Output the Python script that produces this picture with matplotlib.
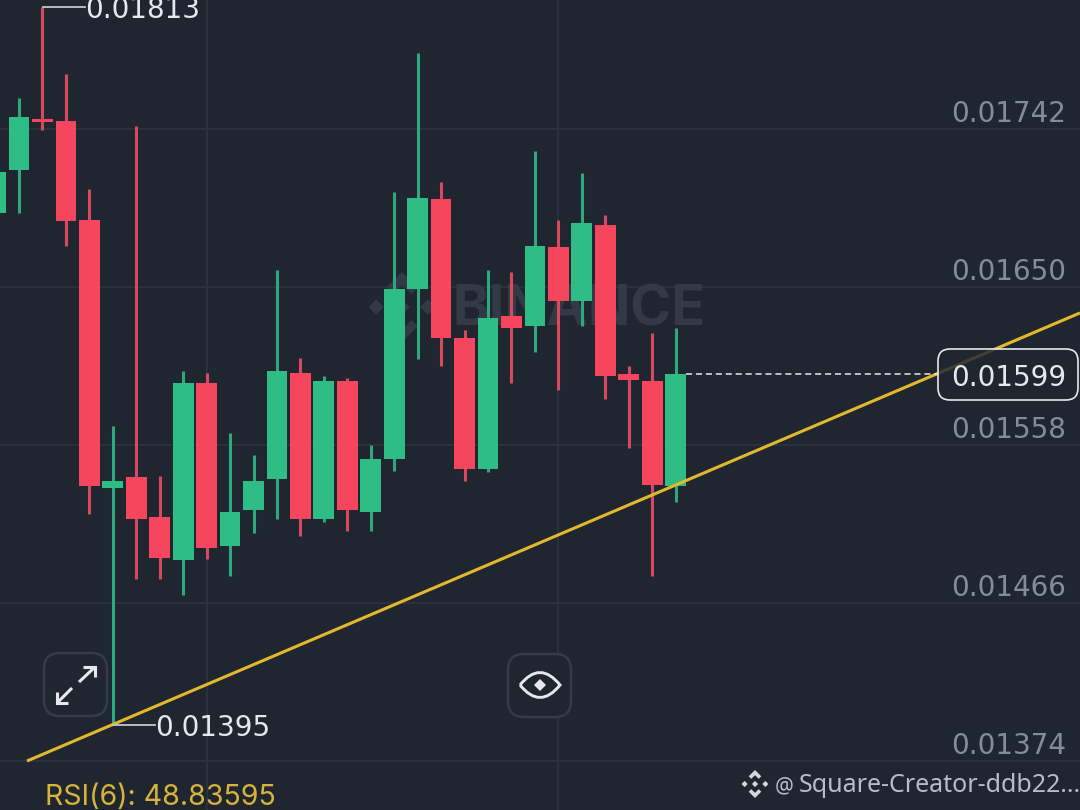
from matplotlib import use

use("Agg")

from matplotlib import pyplot as plt
from matplotlib.patches import FancyBboxPatch, PathPatch, Polygon
from matplotlib.path import Path
from matplotlib.transforms import Affine2D

# prices, one candle per slot, left to right
OPEN = [0.016931, 0.017181, 0.017480, 0.017469, 0.016890, 0.015330, 0.015392, 0.015159, 0.014910, 0.015941,
        0.014990, 0.015200, 0.015380, 0.015999, 0.015149, 0.015951, 0.015190, 0.015500, 0.016490, 0.017011,
        0.016201, 0.015440, 0.016331, 0.016271, 0.016731, 0.016420, 0.016859, 0.015992, 0.015951, 0.015341]
CLOSE = [0.017170, 0.017490, 0.017463, 0.016884, 0.015341, 0.015370, 0.015151, 0.014920, 0.015941, 0.014979,
         0.015190, 0.015370, 0.016011, 0.015151, 0.015951, 0.015200, 0.015498, 0.016490, 0.017020, 0.016201,
         0.015440, 0.016319, 0.016260, 0.016740, 0.016420, 0.016871, 0.015980, 0.015960, 0.015349, 0.015992]
HIGH = [0.017170, 0.017601, 0.018132, 0.017740, 0.017071, 0.015691, 0.017437, 0.015400, 0.016011, 0.016001,
        0.015650, 0.015520, 0.016599, 0.016087, 0.015982, 0.015970, 0.015578, 0.017051, 0.017861, 0.017110,
        0.016250, 0.016599, 0.016589, 0.017290, 0.016890, 0.017162, 0.016921, 0.016040, 0.016230, 0.016260]
LOW = [0.016931, 0.016931, 0.017414, 0.016739, 0.015180, 0.013950, 0.014800, 0.014800, 0.014708, 0.014918,
       0.014817, 0.015069, 0.015149, 0.015050, 0.015130, 0.015079, 0.015081, 0.015430, 0.016081, 0.016042,
       0.015369, 0.015421, 0.015941, 0.016120, 0.015900, 0.016271, 0.015850, 0.015561, 0.014819, 0.015250]

GRID_PRICES = [0.01742, 0.01650, 0.01558, 0.01466, 0.01374]
GRID_LABELS = ["0.01742", "0.01650", "0.01558", "0.01466", "0.01374"]
GRID_CANDLES = [9, 24]

TREND_X = [1.341, 46.245]
TREND_Y = [0.01374, 0.016349]

HIGH_CANDLE, HIGH_PRICE = 2, 0.01813
LOW_CANDLE, LOW_PRICE = 5, 0.01395
LAST_PRICE = 0.01599

BG = "#1F2630"
GRID = "#2C323C"
UP, DOWN = "#2EBD85", "#F6465D"
UP_WICK, DOWN_WICK = "#31A77E", "#D8485F"
YELLOW = "#E3B82E"
LABEL = "#848C98"
WHITE = "#E6E8EC"
WATERMARK = "#333A45"
BUTTON = "#363C47"
NUMBER_FONT = "DejaVu Sans"

plt.rcParams["font.family"] = ["Inter", "DejaVu Sans"]

fig = plt.figure(figsize=(10.8, 8.1), dpi=100, facecolor=BG)
ax = fig.add_axes([0, 0, 1, 1], facecolor=BG)

# slot i sits at pixel -4.45 + 23.45 * i, prices map 158 px to 0.00092
ax.set_xlim(4.45 / 23.45, (1080 + 4.45) / 23.45)
ax.set_ylim(0.01374 - 49 * 0.00092 / 158, 0.01374 + 761 * 0.00092 / 158)

for spine in ax.spines.values():
    spine.set_visible(False)

ax.set_yticks(GRID_PRICES)
ax.set_xticks(GRID_CANDLES)
ax.tick_params(length=0, labelbottom=False, labelleft=False)
ax.set_axisbelow(True)
ax.grid(color=GRID, linewidth=1.4)

# pixel coordinates for the interface bits on top of the chart
px = Affine2D().scale(1, -1).translate(0, 810)


def logo(cx, cy, size, color, zorder):
    diamonds = [(0, 0), (-0.74, 0), (0.74, 0)]

    for dx, dy in diamonds:
        r = 0.22
        points = [(dx, dy - r), (dx + r, dy), (dx, dy + r), (dx - r, dy)]
        scaled = [(cx + a * size, cy + b * size) for a, b in points]
        ax.add_patch(Polygon(scaled, closed=True, facecolor=color, edgecolor="none", transform=px, zorder=zorder))

    for sign in (1, -1):
        points = [(0, 1), (0.45, 0.55), (0.27, 0.37), (0, 0.63), (-0.27, 0.37), (-0.45, 0.55)]
        scaled = [(cx + a * size, cy - sign * b * size) for a, b in points]
        ax.add_patch(Polygon(scaled, closed=True, facecolor=color, edgecolor="none", transform=px, zorder=zorder))


logo(402, 307, 35, WATERMARK, 1)
ax.text(452, 325, "BINANCE", transform=px, color=WATERMARK, fontsize=40, fontweight="bold", ha="left", va="baseline", zorder=1)

ax.plot(TREND_X, TREND_Y, color=YELLOW, linewidth=2.2, solid_capstyle="butt", zorder=5)

for i in range(len(OPEN)):
    up = CLOSE[i] >= OPEN[i]
    body = UP if up else DOWN
    wick = UP_WICK if up else DOWN_WICK

    ax.vlines(i, LOW[i], HIGH[i], color=wick, linewidth=2.2, capstyle="butt", zorder=3)
    ax.bar(i, abs(CLOSE[i] - OPEN[i]), bottom=min(OPEN[i], CLOSE[i]), width=0.884, color=body, zorder=4)

right_edge = ax.get_yaxis_transform()

for price, label in zip(GRID_PRICES, GRID_LABELS):
    ax.annotate(label, xy=(1066 / 1080, price), xycoords=right_edge, xytext=(0, 5.2), textcoords="offset points",
                color=LABEL, fontsize=20, family=NUMBER_FONT, ha="right", va="baseline", zorder=6)

ax.annotate(f"{HIGH_PRICE:.5f}", xy=(HIGH_CANDLE, HIGH_PRICE), xytext=(85, 17.5), textcoords=px,
            color=WHITE, fontsize=20, family=NUMBER_FONT, ha="left", va="baseline", zorder=6)
ax.plot([42.5, 85], [6.7, 6.7], color="#C4C7CC", linewidth=1.3, transform=px, zorder=6)

ax.annotate(f"{LOW_PRICE:.5f}", xy=(LOW_CANDLE, LOW_PRICE), xytext=(155, 736), textcoords=px,
            color=WHITE, fontsize=20, family=NUMBER_FONT, ha="left", va="baseline", zorder=6)
ax.plot([113, 155], [724.5, 724.5], color="#C4C7CC", linewidth=1.3, transform=px, zorder=6)

ax.plot([686, 938], [374.3, 374.3], color=WHITE, linewidth=1.1, dashes=(4, 2.5), transform=px, zorder=6)

box = FancyBboxPatch((946, 357), 124, 35, boxstyle="round,pad=8,rounding_size=12", transform=px,
                     facecolor=BG, edgecolor=WHITE, linewidth=1.2, zorder=7)
box.set_facecolor((31 / 255, 38 / 255, 48 / 255, 0.82))
ax.add_patch(box)
ax.text(1066, 386, f"{LAST_PRICE:.5f}", transform=px, color=WHITE, fontsize=20, family=NUMBER_FONT, ha="right", va="baseline", zorder=8)

for x0, y0 in [(44, 653), (508, 654)]:
    ax.add_patch(FancyBboxPatch((x0 + 14, y0 + 14), 35, 35, boxstyle="round,pad=14,rounding_size=16", transform=px,
                                facecolor=BG, edgecolor=BUTTON, linewidth=1.8, zorder=6))

arrows = [[(79, 682), (95, 667)], [(83, 667), (95, 667), (95, 677)],
          [(72, 688), (57.3, 702.7)], [(57.3, 692), (57.3, 702.7), (68, 702.7)]]

for arrow in arrows:
    ax.plot([p[0] for p in arrow], [p[1] for p in arrow], color=WHITE, linewidth=2.2, transform=px,
            solid_capstyle="butt", solid_joinstyle="miter", zorder=7)

eye = Path([(520, 685), (540, 660), (560, 685), (540, 710), (520, 685)],
           [Path.MOVETO, Path.CURVE3, Path.CURVE3, Path.CURVE3, Path.CURVE3])
ax.add_patch(PathPatch(eye, transform=px, facecolor="none", edgecolor=WHITE, linewidth=2.1, zorder=7))
ax.add_patch(Polygon([(540, 679), (546, 685), (540, 691), (534, 685)], closed=True, transform=px,
                     facecolor=WHITE, edgecolor="none", zorder=7))

ax.text(45, 805, "RSI(6): 48.83595", transform=px, color="#D9B43A", fontsize=20.5, ha="left", va="baseline", zorder=6)

logo(755, 784, 14, "#D5D8DC", 6)
ax.text(775, 792, "@", transform=px, color="#B7BDC6", fontsize=15, family="Noto Sans", ha="left", va="baseline", zorder=6)
ax.text(799, 792, "Square-Creator-ddb22...", transform=px, color="#B7BDC6", fontsize=18, family="Noto Sans", ha="left", va="baseline", zorder=6)

plt.savefig("out.png", dpi=100)
plt.close(fig)
